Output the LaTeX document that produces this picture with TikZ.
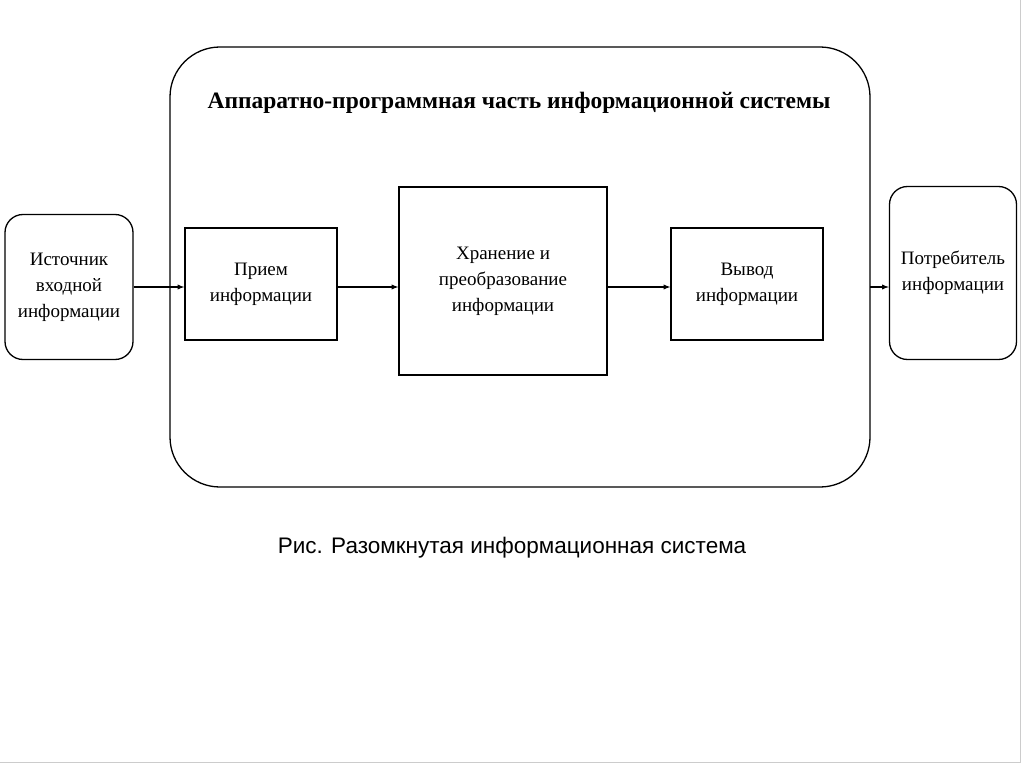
\documentclass[tikz,border=0pt]{standalone}
\usepackage{fontspec}
\setmainfont{Liberation Serif}
\setsansfont{Liberation Sans}
\usetikzlibrary{arrows}

\begin{document}
\begin{tikzpicture}[x=1pt, y=-1pt, >=latex]
\tikzstyle{blk}=[rectangle, draw=black, line width=1.3pt, align=center, font=\fontsize{19}{26}\selectfont]
\tikzstyle{rblk}=[blk, rounded corners=18pt]
\tikzstyle{flow}=[->, line width=1.3pt]
%
\useasboundingbox (0,0) rectangle (1024,767);
\draw [gray!40] (1020,0) -- (1020,762) -- (0,762);

\draw [line width=1.3pt, rounded corners=50pt] (170,47) rectangle (870,487);
\node [font=\bfseries\fontsize{23.5}{28}\selectfont] (title) at (519,103) {Аппаратно-программная часть информационной системы};

\node [rblk, minimum width=128pt, minimum height=145pt] (src) at (69,287) {Источник\\входной\\информации};
\node [blk, minimum width=152pt, minimum height=112pt] (recv) at (261,284) {Прием\\информации};
\node [blk, minimum width=208pt, minimum height=188pt] (store) at (503,281) {Хранение и\\преобразование\\информации};
\node [blk, minimum width=152pt, minimum height=112pt] (out) at (747,284) {Вывод\\информации};
\node [rblk, minimum width=127pt, minimum height=173pt] (user) at (953,273) {Потребитель\\информации};
\coordinate (sysout) at (870,287);

\draw [flow] (src.east |- 0,287) -- (recv.west |- 0,287);
\draw [flow] (recv.east |- 0,287) -- (store.west |- 0,287);
\draw [flow] (store.east |- 0,287) -- (out.west |- 0,287);
\draw [flow] (sysout) -- (user.west |- 0,287);

\node [font=\sffamily\fontsize{22.5}{26}\selectfont] (caption) at (512,548) {Рис. Разомкнутая информационная система};
\end{tikzpicture}
\end{document}
